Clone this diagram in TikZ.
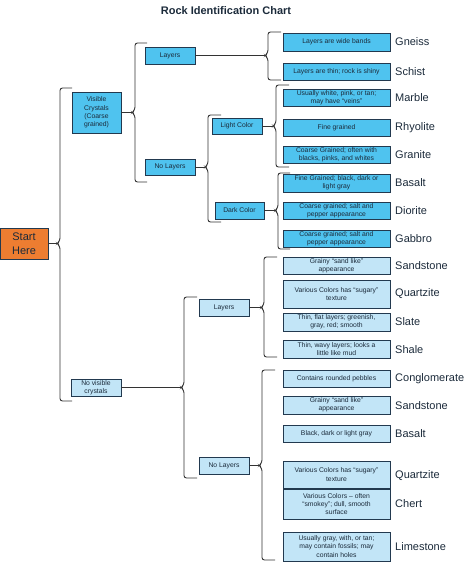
\documentclass[tikz,border=0pt]{standalone}
\usepackage{fontspec}
\setmainfont{Liberation Sans}
\definecolor{bright}{HTML}{4FC3EF}
\definecolor{pale}{HTML}{C2E5F7}
\definecolor{edge}{HTML}{22394F}
\definecolor{orng}{HTML}{ED7D31}
\definecolor{txt}{HTML}{1B2A3A}
\definecolor{ln}{HTML}{333333}
\tikzset{
  boxbase/.style={draw=edge, line width=0.8pt, inner sep=0pt, align=center, text=txt,
     font=\fontsize{6.8}{8.2}\selectfont},
  brightbox/.style={boxbase, fill=bright},
  palebox/.style={boxbase, fill=pale},
  startbox/.style={draw=edge, line width=0.8pt, fill=orng, inner sep=0pt, align=center,
     text=txt, font=\fontsize{11}{13.5}\selectfont},
  rockname/.style={anchor=west, inner sep=0pt, text=txt, font=\fontsize{11}{12}\selectfont},
  bracepath/.style={draw=ln, line width=0.9pt, rounded corners=2.5pt},
  conn/.style={draw=ln, line width=0.9pt}
}
% \bx{name}{style}{x1}{y1}{x2}{y2}{text}
\newcommand{\bx}[7]{\node[#2, minimum width={#5-#3}, minimum height={#6-#4}] (#1) at ({(#3+#5)/2},{(#4+#6)/2}) {#7};}
% \brc{name}{x}{top}{tip}{bottom}{hookx}
\newcommand{\brc}[6]{%
  \draw[bracepath] (#6,#3) -- (#2,#3) -- (#2,{#4-3}) -- ({#2-3},#4) -- (#2,{#4+3}) -- (#2,#5) -- (#6,#5);
  \coordinate (#1) at ({#2-3},#4);}
\begin{document}
\begin{tikzpicture}[x=1pt,y=-1pt]
\useasboundingbox (0,0) rectangle (474,566);
\node[font=\bfseries\fontsize{11}{13}\selectfont, text=txt] (title) at (226,11) {Rock Identification Chart};

% start
\bx{start}{startbox}{0}{228}{48}{259}{Start\\Here}

% first level
\bx{visible}{brightbox}{72}{92}{121}{133}{Visible\\Crystals\\(Coarse\\grained)}
\bx{novis}{palebox}{71}{379}{121}{396}{No visible\\crystals}

% second level (igneous/metamorphic)
\bx{layA}{brightbox}{145}{47}{195}{64}{Layers}
\bx{nolayA}{brightbox}{145}{159}{195}{175}{No Layers}
\bx{light}{brightbox}{212}{118}{262}{134}{Light Color}
\bx{dark}{brightbox}{215}{202}{264}{219}{Dark Color}

% second level (sedimentary etc.)
\bx{layB}{palebox}{199}{299}{249}{316}{Layers}
\bx{nolayB}{palebox}{199}{457}{249}{474}{No Layers}

% leaf boxes top
\bx{gneiss}{brightbox}{283}{33}{390}{51}{Layers are wide bands}
\bx{schist}{brightbox}{283}{63}{390}{80}{Layers are thin; rock is shiny}
\bx{marble}{brightbox}{283}{89}{390}{106}{Usually white, pink, or tan;\\may have “veins”}
\bx{rhyolite}{brightbox}{283}{119}{390}{136}{Fine grained}
\bx{granite}{brightbox}{283}{146}{390}{163}{Coarse Grained; often with\\blacks, pinks, and whites}
\bx{basaltA}{brightbox}{283}{174}{390}{192}{Fine Grained; black, dark or\\light gray}
\bx{diorite}{brightbox}{283}{202}{390}{219}{Coarse grained; salt and\\pepper appearance}
\bx{gabbro}{brightbox}{283}{230}{390}{247}{Coarse grained; salt and\\pepper appearance}

% leaf boxes bottom
\bx{sandA}{palebox}{283}{257}{390}{274}{Grainy “sand like”\\appearance}
\bx{quartzA}{palebox}{283}{280}{390}{308}{Various Colors has “sugary”\\texture}
\bx{slate}{palebox}{283}{313}{390}{331}{Thin, flat layers; greenish,\\gray, red; smooth}
\bx{shale}{palebox}{283}{340}{390}{358}{Thin, wavy layers; looks a\\little like mud}
\bx{cong}{palebox}{283}{370}{390}{387}{Contains rounded pebbles}
\bx{sandB}{palebox}{283}{396}{390}{414}{Grainy “sand like”\\appearance}
\bx{basaltB}{palebox}{283}{425}{390}{442}{Black, dark or light gray}
\bx{quartzB}{palebox}{283}{461}{390}{488}{Various Colors has “sugary”\\texture}
\bx{chert}{palebox}{283}{489}{390}{519}{Various Colors – often\\“smokey”; dull, smooth\\surface}
\bx{lime}{palebox}{283}{532}{390}{561}{Usually gray, with, or tan;\\may contain fossils; may\\contain holes}

% rock names
\node[rockname] (nGneiss) at (395,42) {Gneiss};
\node[rockname] (nSchist) at (395,71.5) {Schist};
\node[rockname] (nMarble) at (395,97.5) {Marble};
\node[rockname] (nRhyolite) at (395,127.5) {Rhyolite};
\node[rockname] (nGranite) at (395,154.5) {Granite};
\node[rockname] (nBasaltA) at (395,182.5) {Basalt};
\node[rockname] (nDiorite) at (395,210.5) {Diorite};
\node[rockname] (nGabbro) at (395,238.5) {Gabbro};
\node[rockname] (nSandA) at (395,266) {Sandstone};
\node[rockname] (nQuartzA) at (395,294) {Quartzite};
\node[rockname] (nSlate) at (395,322) {Slate};
\node[rockname] (nShale) at (395,350) {Shale};
\node[rockname] (nCong) at (395,378.5) {Conglomerate};
\node[rockname] (nSandB) at (395,406) {Sandstone};
\node[rockname] (nBasaltB) at (395,434) {Basalt};
\node[rockname] (nQuartzB) at (395,476) {Quartzite};
\node[rockname] (nChert) at (395,504) {Chert};
\node[rockname] (nLime) at (395,547) {Limestone};

% braces
\brc{t0}{60}{88}{243.5}{401}{72}
\brc{t1}{135}{43}{112.5}{182}{147}
\brc{t2}{268}{32}{55.5}{80}{281}
\brc{t3}{208}{115}{167}{222}{221}
\brc{t4}{276}{85}{126}{167}{289}
\brc{t5}{278}{173}{210.5}{249}{290}
\brc{t6}{184}{297}{387.5}{478}{197}
\brc{t7}{264}{257}{307.5}{357}{277}
\brc{t8}{262}{370}{465.5}{560}{275}

% connectors
\draw[conn] (start.east) -- (t0);
\draw[conn] (visible.east) -- (t1);
\draw[conn] (layA.east) -- (t2);
\draw[conn] (nolayA.east) -- (t3);
\draw[conn] (light.east) -- (t4);
\draw[conn] (dark.east) -- (t5);
\draw[conn] (novis.east) -- (t6);
\draw[conn] (layB.east) -- (t7);
\draw[conn] (nolayB.east) -- (t8);
\end{tikzpicture}
\end{document}
